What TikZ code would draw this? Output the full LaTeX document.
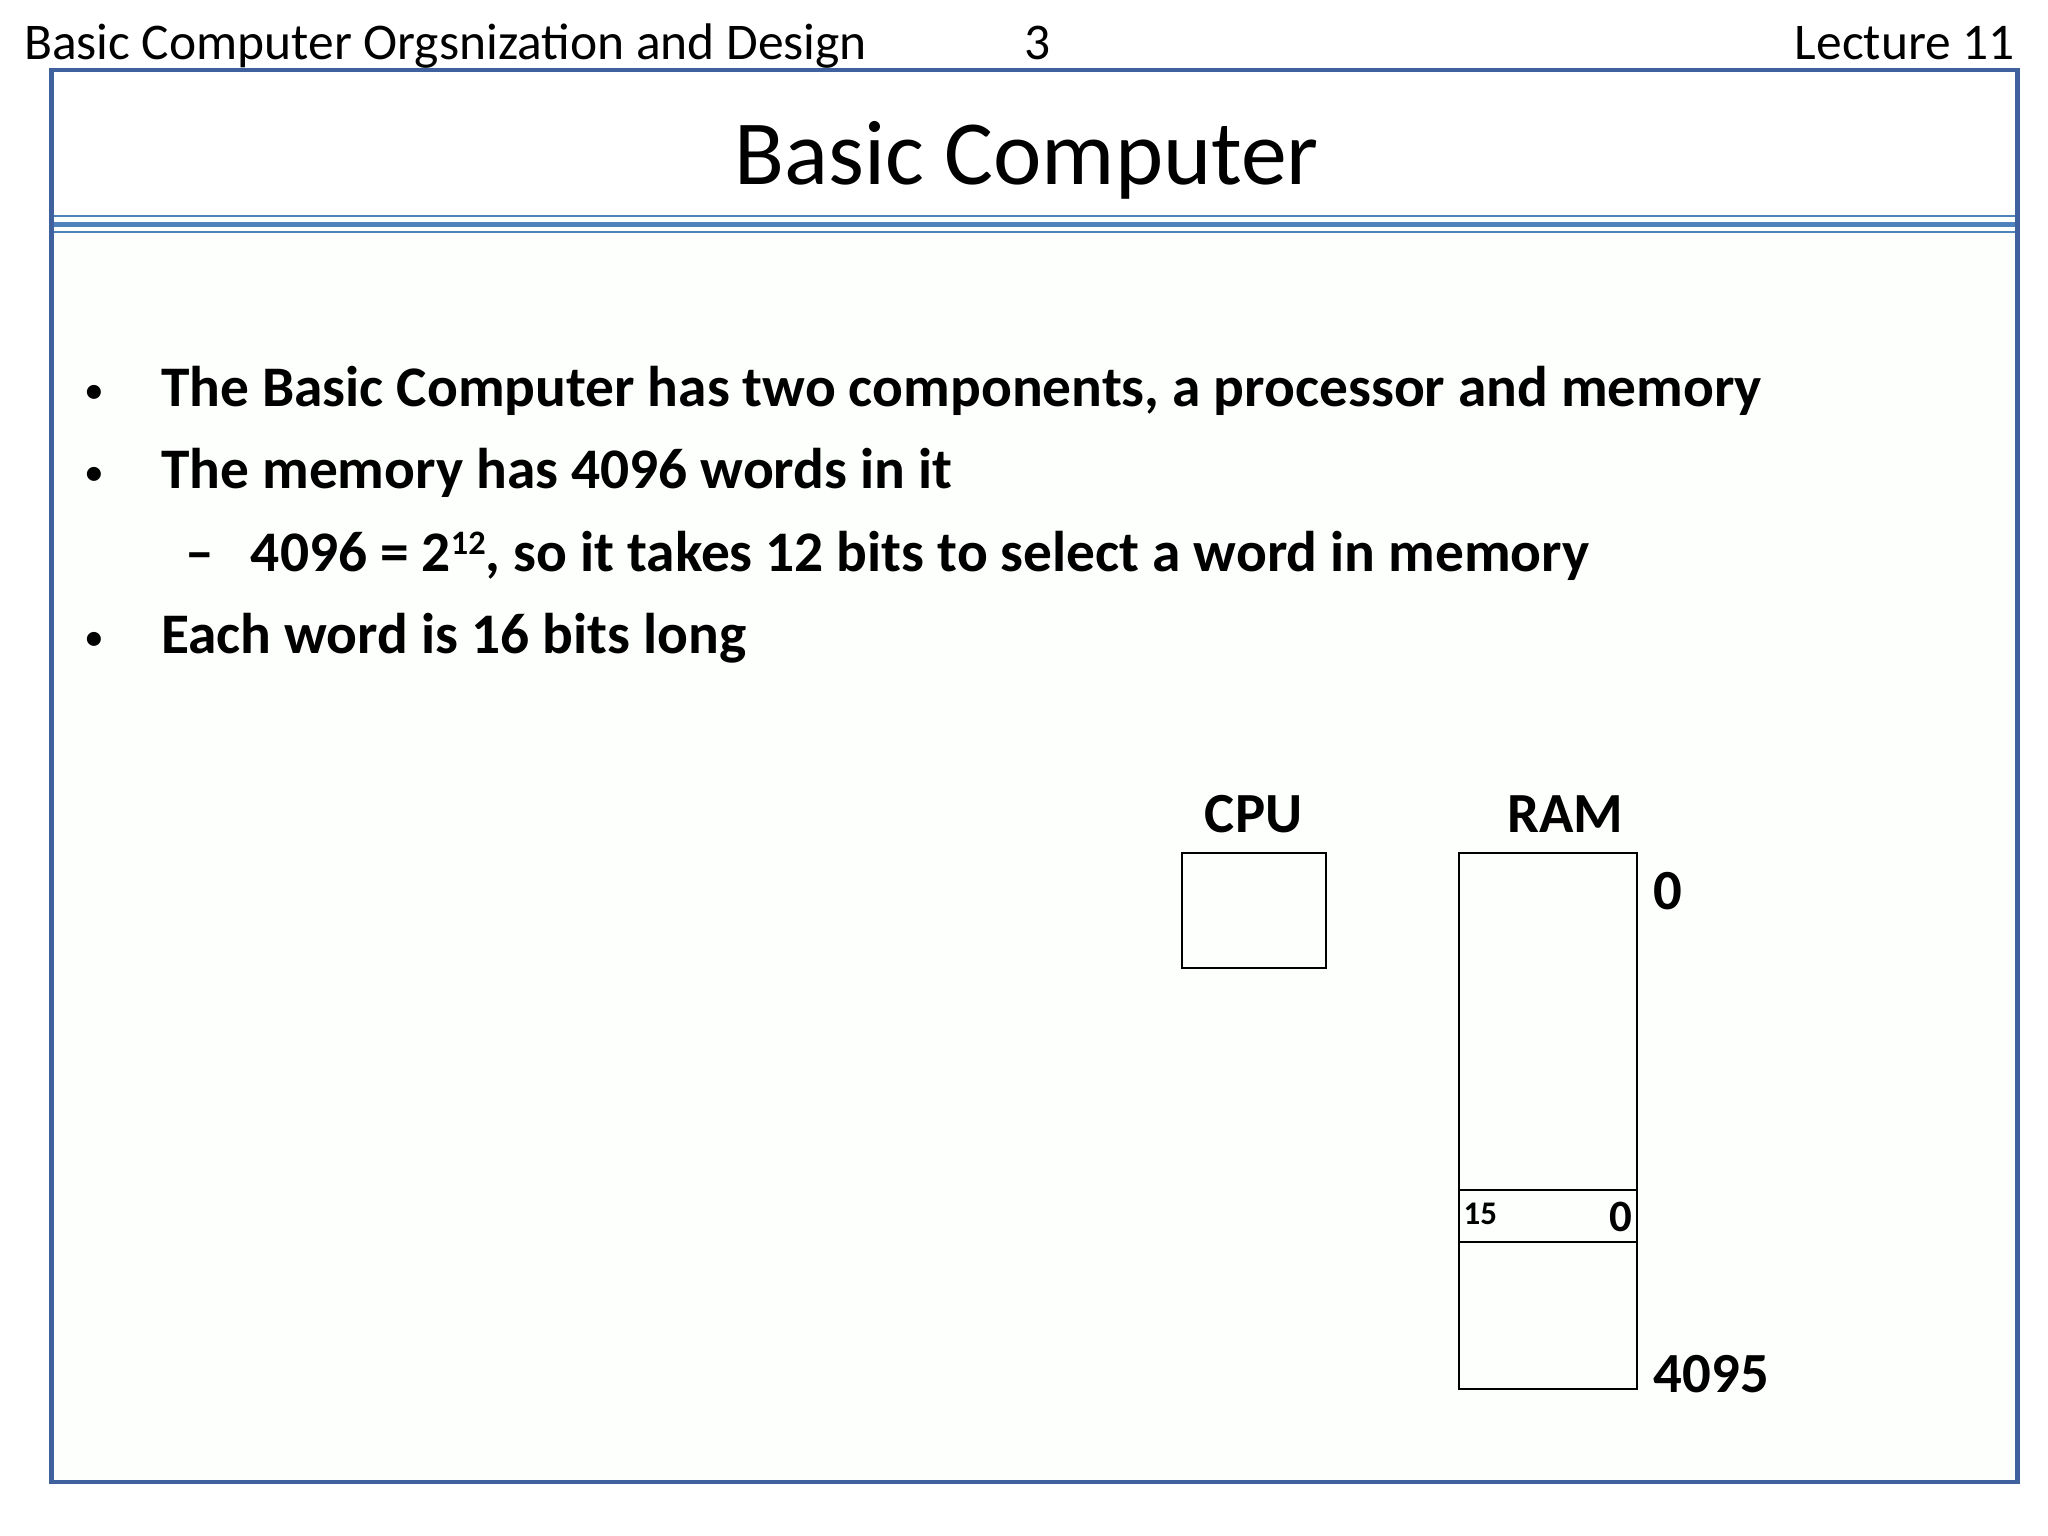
\documentclass[tikz,border=0pt]{standalone}
\usepackage{fontspec}
\setmainfont{Carlito}
\begin{document}
\begin{tikzpicture}[x=1pt,y=-1pt,
  hdr/.style={font=\fontsize{39}{42}\selectfont, inner sep=0pt},
  body/.style={font=\bfseries\fontsize{43.5}{46}\selectfont, inner sep=0pt, anchor=base west},
  bul/.style={font=\fontsize{30}{32}\selectfont, inner sep=0pt, anchor=base west},
  lbl/.style={font=\bfseries\fontsize{43}{46}\selectfont, inner sep=0pt},
  box/.style={draw=black, line width=1.3pt}]
\useasboundingbox (0,0) rectangle (1552,1164);
\fill[white] (0,0) rectangle (1552,1164);
\fill[white!97!green!30!white] (39,53) rectangle (1529,1123);
% header
\node[hdr, anchor=base west] (h1) at (18,45) {Basic Computer Orgsnization and Design};
\node[hdr, anchor=base] (h2) at (786,45) {3};
\node[hdr, anchor=base east] (h3) at (1527,45) {Lecture 11};
% frame
\draw[color={rgb,255:red,63;green,98;blue,158}, line width=3.5pt] (39,53) rectangle (1529,1123);
\fill[white] (41,56) rectangle (1527,162);
\node[font=\fontsize{69.5}{74}\selectfont, inner sep=0pt, anchor=base] (title) at (778,140) {Basic Computer};
% double line
\draw[color={rgb,255:red,79;green,129;blue,189}, line width=1.5pt] (41,164) -- (1527,164);
\draw[color={rgb,255:red,79;green,129;blue,189}, line width=4pt] (41,170) -- (1527,170);
\draw[color={rgb,255:red,79;green,129;blue,189}, line width=1.5pt] (41,176) -- (1527,176);
% bullets
\node[bul] (b1) at (64,306) {•};
\node[body] (t1) at (122,308) {The Basic Computer has two components, a processor and memory};
\node[bul] (b2) at (64,368) {•};
\node[body] (t2) at (122,370) {The memory has 4096 words in it};
\node[body] (b3) at (140,433) {–};
\node[body] (t3) at (190,433) {4096 = 2\raisebox{0.6ex}{\fontsize{26}{28}\selectfont 12}, so it takes 12 bits to select a word in memory};
\node[bul] (b4) at (64,493) {•};
\node[body] (t4) at (122,495) {Each word is 16 bits long};
% CPU
\node[lbl, anchor=base] (cpul) at (950,631) {CPU};
\node[box, minimum width=109pt, minimum height=87pt, anchor=north west, inner sep=0pt] (cpu) at (895,646) {};
% RAM
\node[lbl, anchor=base] (raml) at (1186,631) {RAM};
\node[box, minimum width=135pt, minimum height=406pt, anchor=north west, inner sep=0pt] (ram) at (1105,646) {};
\coordinate (w1l) at (1105,902); \coordinate (w1r) at (1240,902);
\coordinate (w2l) at (1105,941); \coordinate (w2r) at (1240,941);
\draw[line width=1.3pt] (w1l) -- (w1r);
\draw[line width=1.3pt] (w2l) -- (w2r);
\node[font=\bfseries\fontsize{25}{27}\selectfont, inner sep=0pt, anchor=base west] (b15) at (1109,928) {15};
\node[font=\bfseries\fontsize{34}{36}\selectfont, inner sep=0pt, anchor=base east] (b0) at (1237,933) {0};
\node[lbl, anchor=base west] (a0) at (1253,689) {0};
\node[lbl, anchor=base west] (a4095) at (1253,1055) {4095};
\end{tikzpicture}
\end{document}
